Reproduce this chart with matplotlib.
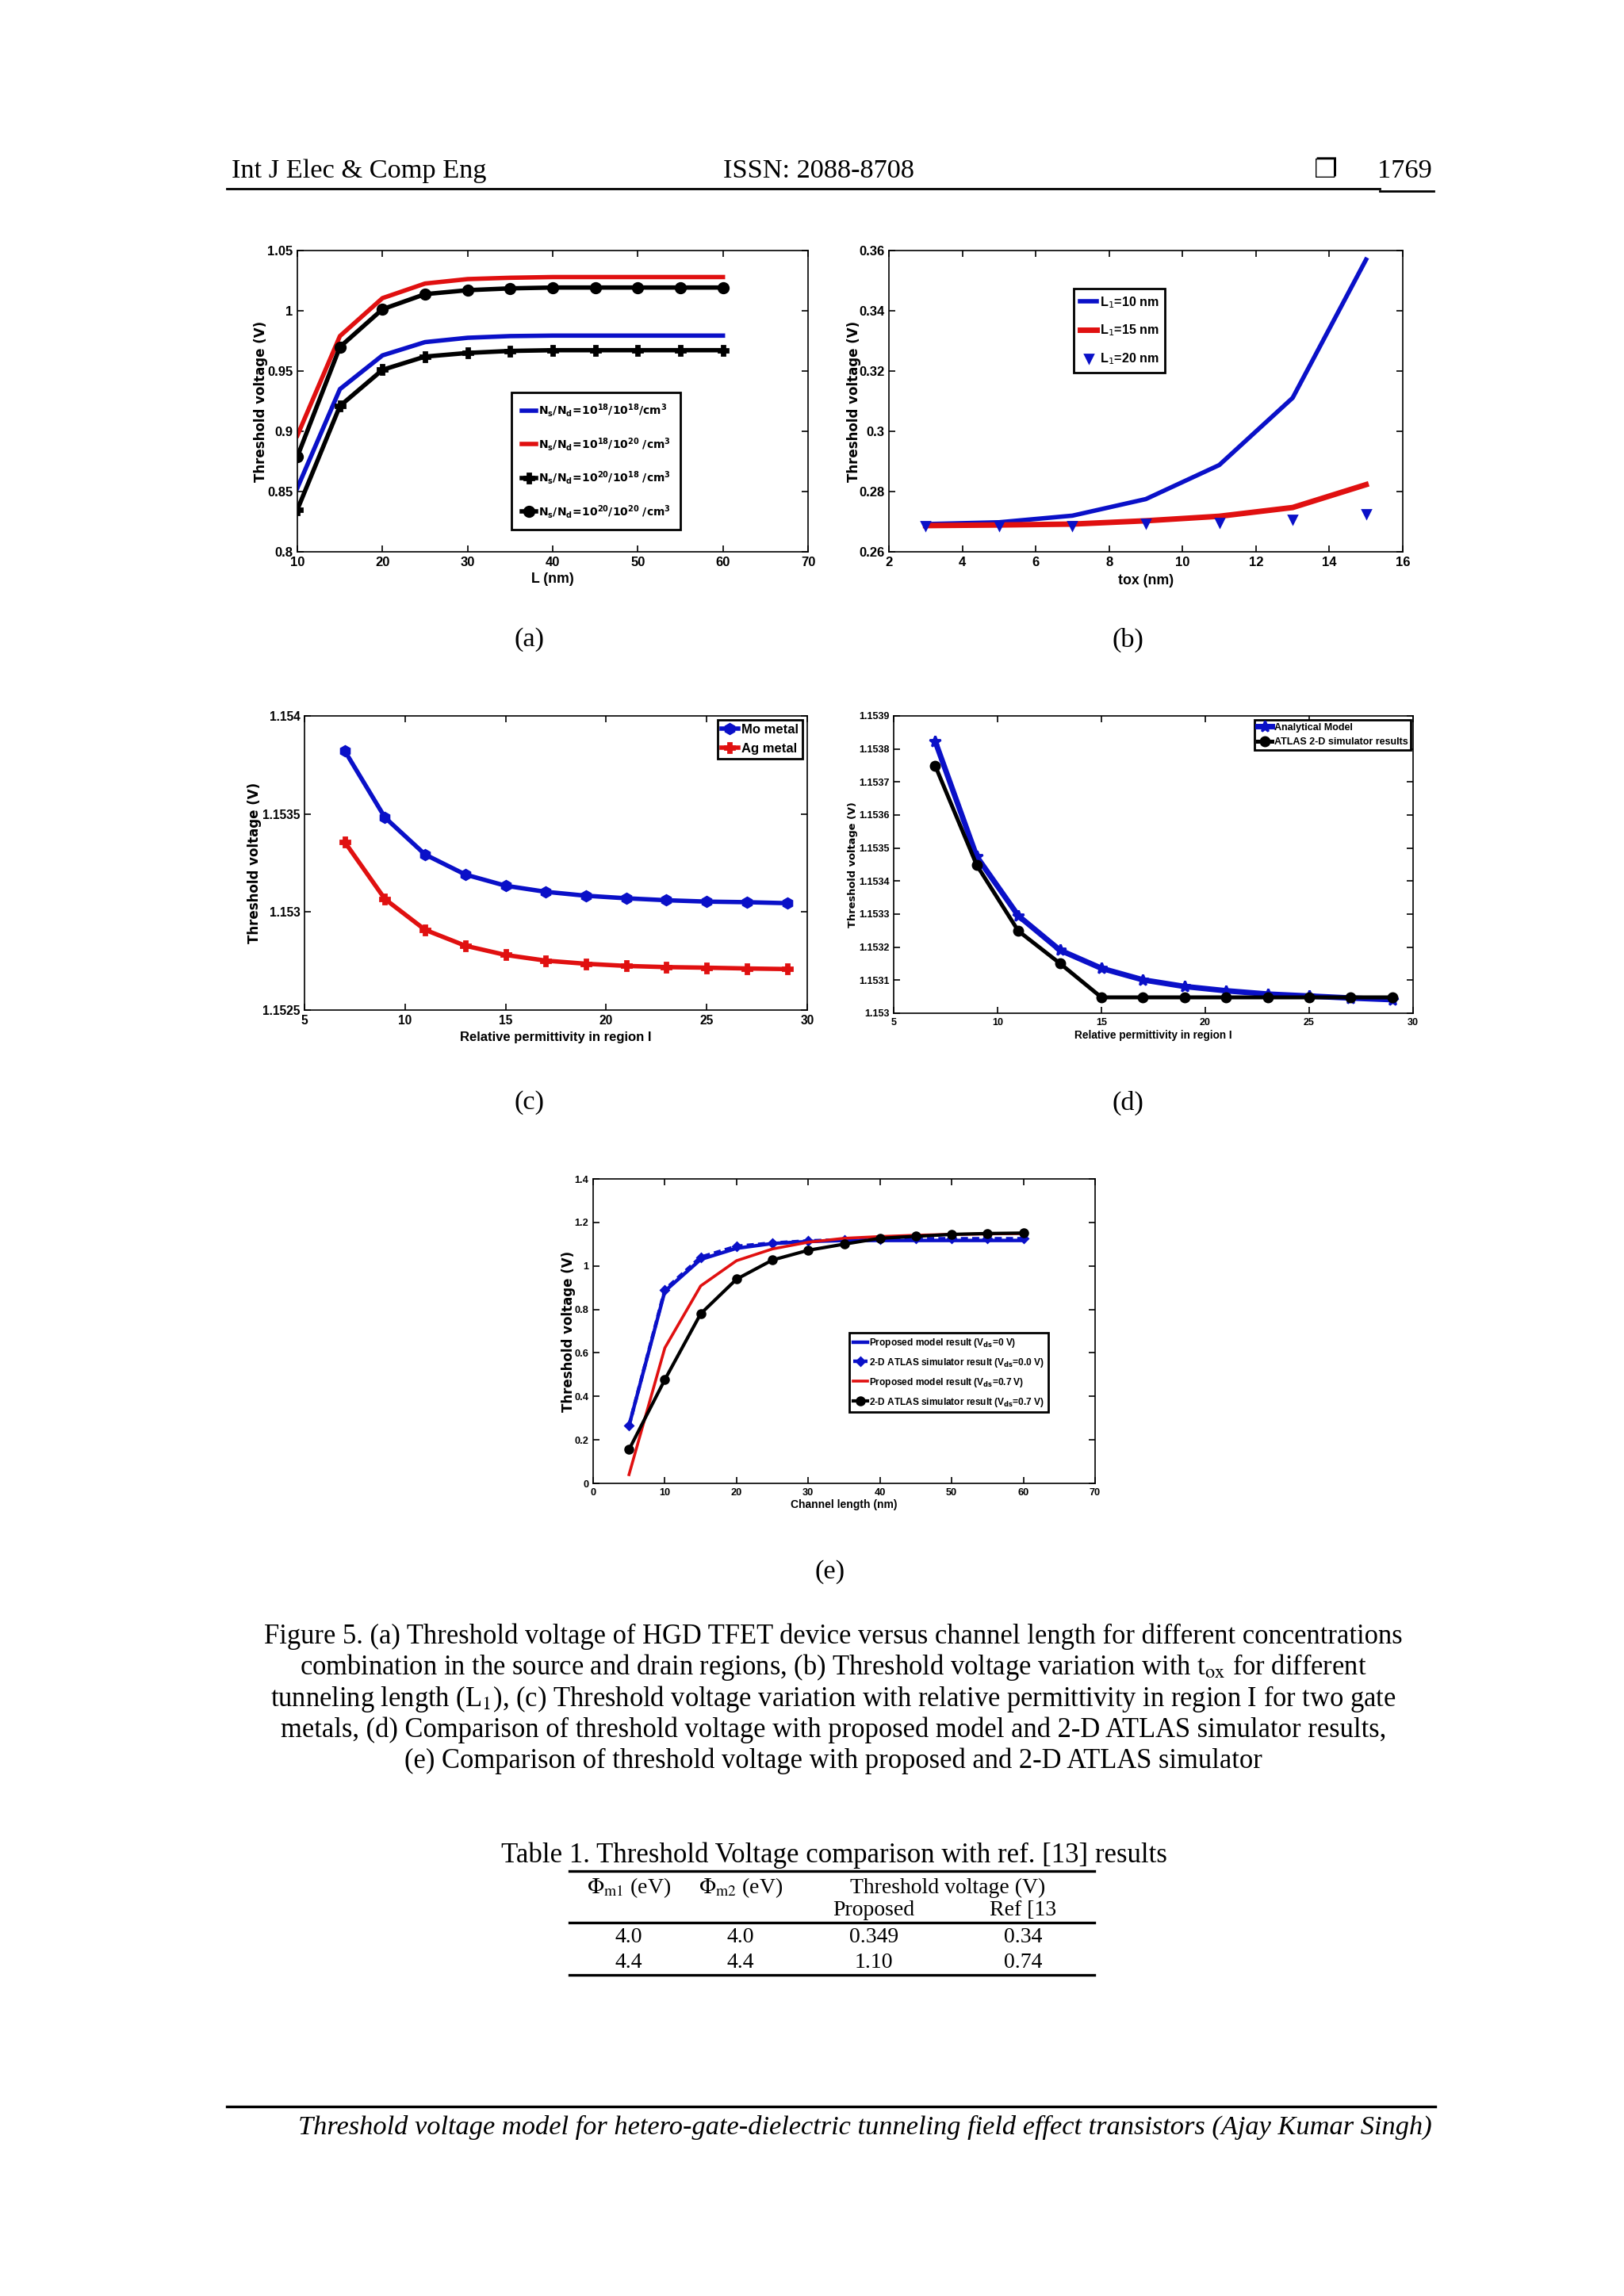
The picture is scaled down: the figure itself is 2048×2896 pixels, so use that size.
import numpy as np
import matplotlib
matplotlib.use("Agg")
import matplotlib.pyplot as plt
from matplotlib.lines import Line2D
from matplotlib.ticker import FuncFormatter

W, H = 2048, 2896
DPI = 200

# (a) threshold voltage vs channel length
L_a = [10, 15, 20, 25, 30, 35, 40, 45, 50, 55, 60]
vt_a_18_18 = [0.853, 0.935, 0.963, 0.974, 0.9776, 0.979, 0.9794, 0.9794, 0.9794, 0.9794, 0.9794]
vt_a_18_20 = [0.8965, 0.979, 1.0105, 1.0226, 1.0263, 1.0274, 1.028, 1.028, 1.028, 1.028, 1.028]
vt_a_20_18 = [0.835, 0.921, 0.951, 0.962, 0.965, 0.9667, 0.9673, 0.9673, 0.9673, 0.9673, 0.9673]
vt_a_20_20 = [0.879, 0.970, 1.0013, 1.0138, 1.0171, 1.0186, 1.0193, 1.0193, 1.0193, 1.0193, 1.0193]

# (b) threshold voltage vs tox
tox_b = [3, 5, 7, 9, 11, 13, 15]
vt_b_L10 = [0.2692, 0.2698, 0.2720, 0.2775, 0.2888, 0.3111, 0.3570]
vt_b_L15 = [0.2687, 0.2689, 0.2692, 0.2703, 0.2718, 0.2747, 0.2823]
vt_b_L20 = [0.2686, 0.2687, 0.2687, 0.2694, 0.2698, 0.2707, 0.2725]

# (c) threshold voltage vs relative permittivity, two gate metals
eps_c = [7, 9, 11, 13, 15, 17, 19, 21, 23, 25, 27, 29]
vt_c_mo = [1.153822, 1.153482, 1.153293, 1.153191, 1.153134, 1.153103,
           1.153083, 1.153070, 1.153060, 1.153053, 1.153050, 1.153045]
vt_c_ag = [1.153357, 1.153066, 1.152909, 1.152828, 1.152781, 1.152752,
           1.152736, 1.152725, 1.152719, 1.152716, 1.152712, 1.152709]

# (d) analytical model vs ATLAS
eps_d = [7, 9, 11, 13, 15, 17, 19, 21, 23, 25, 27, 29]
vt_d_model = [1.153823, 1.153474, 1.153295, 1.153191, 1.153136, 1.153101,
              1.153081, 1.153068, 1.153058, 1.153052, 1.153046, 1.153041]
vt_d_atlas = [1.153749, 1.153448, 1.153249, 1.153151, 1.153048, 1.153048,
              1.153048, 1.153048, 1.153048, 1.153048, 1.153048, 1.153048]

# (e) proposed model vs ATLAS, two drain biases
L_e = [5, 10, 15, 20, 25, 30, 35, 40, 45, 50, 55, 60]
vt_e_model0 = [0.265, 0.884, 1.030, 1.081, 1.103, 1.112, 1.117, 1.117, 1.117, 1.117, 1.117, 1.117]
vt_e_atlas0 = [0.265, 0.890, 1.040, 1.090, 1.105, 1.115, 1.120, 1.122, 1.125, 1.125, 1.125, 1.125]
vt_e_model7 = [0.040, 0.623, 0.908, 1.024, 1.078, 1.109, 1.127, 1.135, 1.141, 1.145, 1.147, 1.149]
vt_e_atlas7 = [0.155, 0.477, 0.780, 0.939, 1.027, 1.072, 1.100, 1.127, 1.136, 1.145, 1.149, 1.151]

caption_lines = [
    "Figure 5. (a) Threshold voltage of HGD TFET device versus channel length for different concentrations",
    r"combination in the source and drain regions, (b) Threshold voltage variation with t$_{\mathrm{ox}}$ for different",
    r"tunneling length (L$_1$), (c) Threshold voltage variation with relative permittivity in region I for two gate",
    "metals, (d) Comparison of threshold voltage with proposed model and 2-D ATLAS simulator results,",
    "(e) Comparison of threshold voltage with proposed and 2-D ATLAS simulator",
]
table_rows = [["4.0", "4.0", "0.349", "0.34"], ["4.4", "4.4", "1.10", "0.74"]]

SERIF = ["Liberation Serif", "DejaVu Serif"]
SANS = ["Liberation Sans", "DejaVu Sans"]

plt.rcParams["font.family"] = SANS
plt.rcParams["mathtext.fontset"] = "dejavusans"
plt.rcParams["axes.linewidth"] = 0.6
plt.rcParams["legend.fancybox"] = False
plt.rcParams["legend.edgecolor"] = "black"
plt.rcParams["legend.framealpha"] = 1.0

fig = plt.figure(figsize=(W / DPI, H / DPI), dpi=DPI)
BLUE = "#0a10c8"
RED = "#e01010"


def add_ax(l, t, r, b):
    return fig.add_axes([l / W, 1 - b / H, (r - l) / W, (b - t) / H])


def style_ax(ax, fs, ylab_x, xlab_y, ylab_fs):
    ax.tick_params(direction="in", top=True, right=True, length=3, width=0.6,
                   labelsize=fs, pad=2)
    ax.xaxis.set_major_formatter(FuncFormatter(lambda v, p: f"{v:g}"))
    ax.yaxis.set_major_formatter(FuncFormatter(lambda v, p: f"{round(v, 6):g}"))
    for lab in ax.get_xticklabels() + ax.get_yticklabels():
        lab.set_fontweight("bold")
    ax.set_ylabel("Threshold voltage (V)", family="DejaVu Sans", fontweight="bold",
                  fontsize=ylab_fs)
    ax.yaxis.set_label_coords(ylab_x, 0.5)
    ax.yaxis.label.set_va("center")
    ax.xaxis.set_label_coords(0.5, xlab_y)
    ax.xaxis.label.set_va("center")
    ax.xaxis.label.set_fontsize(fs + 0.4)
    ax.xaxis.label.set_fontweight("bold")


def leg(ax, fs, **kw):
    return ax.legend(borderaxespad=0, prop={"size": fs, "weight": "bold"},
                     handletextpad=0.2, **kw)


def fig_text(x, y, s, **kw):
    fig.text(x / W, 1 - y / H, s, **kw)


def hline(x0, x1, y, lw=1.0):
    fig.add_artist(Line2D([x0 / W, x1 / W], [1 - y / H, 1 - y / H], color="black",
                          lw=lw, transform=fig.transFigure))


# ---- header / footer ----
hdr = dict(family=SERIF, fontsize=12.4, va="center")
fig_text(292, 216, "Int J Elec & Comp Eng", ha="left", **hdr)
fig_text(1032, 216, "ISSN: 2088-8708", ha="center", **hdr)
fig_text(1672, 214, "\u2750", ha="center", family=["DejaVu Sans"], fontsize=12, va="center")
fig_text(1806, 216, "1769", ha="right", **hdr)
hline(286, 1740, 238, lw=1.0)
hline(1740, 1808, 241, lw=1.0)
hline(286, 1810, 2657, lw=1.2)
fig_text(1806, 2683, "Threshold voltage model for hetero-gate-dielectric tunneling field effect transistors (Ajay Kumar Singh)",
         ha="right", va="center", family=SERIF, style="italic", fontsize=12.4)

# ---- (a) ----
ax = add_ax(375, 316, 1019, 696)
ax.plot(L_a, vt_a_18_18, color=BLUE, lw=2.0, label=r"$\mathbf{N_s/N_d\!=\!10^{18}/10^{18}/cm^3}$")
ax.plot(L_a, vt_a_18_20, color=RED, lw=2.0, label=r"$\mathbf{N_s/N_d\!=\!10^{18}/10^{20}\ /cm^3}$")
ax.plot(L_a, vt_a_20_18, color="black", lw=2.0, marker="P", ms=4, label=r"$\mathbf{N_s/N_d\!=\!10^{20}/10^{18}\ /cm^3}$")
ax.plot(L_a, vt_a_20_20, color="black", lw=2.0, marker="o", ms=4.5, label=r"$\mathbf{N_s/N_d\!=\!10^{20}/10^{20}\ /cm^3}$")
ax.set_xlim(10, 70)
ax.set_ylim(0.8, 1.05)
ax.set_xticks(np.arange(10, 71, 10))
ax.set_yticks(np.arange(0.8, 1.0501, 0.05))
ax.set_xlabel("L (nm)")
style_ax(ax, 6, -0.071, -0.092, 6)
leg(ax, 5.0, loc="upper left", bbox_to_anchor=(0.42, 0.53), handlelength=1.3,
    labelspacing=1.55, borderpad=0.9)

# ---- (b) ----
ax = add_ax(1121, 316, 1769, 696)
ax.plot(tox_b, vt_b_L10, color=BLUE, lw=2.0, label=r"L$_1$=10 nm")
ax.plot(tox_b, vt_b_L15, color=RED, lw=2.5, label=r"L$_1$=15 nm")
ax.plot(tox_b, vt_b_L20, ls="none", color=BLUE, marker="v", ms=3.8, label=r"L$_1$=20 nm")
ax.set_xlim(2, 16)
ax.set_ylim(0.26, 0.36)
ax.set_xticks(np.arange(2, 17, 2))
ax.set_yticks(np.arange(0.26, 0.3601, 0.02))
ax.set_xlabel("tox (nm)")
style_ax(ax, 6, -0.068, -0.097, 6)
leg(ax, 5.8, loc="upper left", bbox_to_anchor=(0.36, 0.874), handlelength=1.3,
    labelspacing=1.05, borderpad=0.5)

# ---- (c) ----
ax = add_ax(384, 903, 1018, 1274)
ax.plot(eps_c, vt_c_mo, color=BLUE, lw=2.0, marker="h", ms=4.5, label="Mo metal")
ax.plot(eps_c, vt_c_ag, color=RED, lw=2.0, marker="P", ms=4.5, label="Ag metal")
ax.set_xlim(5, 30)
ax.set_ylim(1.1525, 1.154)
ax.set_xticks(np.arange(5, 31, 5))
ax.set_yticks([1.1525, 1.153, 1.1535, 1.154])
ax.set_xlabel("Relative permittivity in region I")
style_ax(ax, 5.6, -0.099, -0.094, 6)
leg(ax, 6, loc="upper right", bbox_to_anchor=(0.99, 0.987), handlelength=1.3,
    labelspacing=0.55, borderpad=0.3)

# ---- (d) ----
ax = add_ax(1127, 903, 1782, 1278)
ax.plot(eps_d, vt_d_model, color=BLUE, lw=2.5, marker="*", ms=5, label="Analytical Model")
ax.plot(eps_d, vt_d_atlas, color="black", lw=1.8, marker="o", ms=4, label="ATLAS 2-D simulator results")
ax.set_xlim(5, 30)
ax.set_ylim(1.153, 1.1539)
ax.set_xticks(np.arange(5, 31, 5))
ax.set_yticks(np.linspace(1.153, 1.1539, 10))
ax.set_xlabel("Relative permittivity in region I")
style_ax(ax, 4.5, -0.079, -0.075, 4.7)
leg(ax, 4.5, loc="upper right", bbox_to_anchor=(0.996, 0.987), handlelength=1.5,
    labelspacing=0.5, borderpad=0.3)

# ---- (e) ----
ax = add_ax(748, 1487, 1381, 1871)
ax.plot(L_e, vt_e_model0, color=BLUE, lw=1.6, label=r"Proposed model result (V$_{\mathbf{ds}}$=0 V)")
ax.plot(L_e, vt_e_atlas0, color=BLUE, lw=1.6, ls=(0, (2, 1.2)), marker="D", ms=2.5,
        label=r"2-D ATLAS simulator result (V$_{\mathbf{ds}}$=0.0 V)")
ax.plot(L_e, vt_e_model7, color=RED, lw=1.3, label=r"Proposed model result (V$_{\mathbf{ds}}$=0.7 V)")
ax.plot(L_e, vt_e_atlas7, color="black", lw=1.5, marker="o", ms=3.5,
        label=r"2-D ATLAS simulator result (V$_{\mathbf{ds}}$=0.7 V)")
ax.set_xlim(0, 70)
ax.set_ylim(0, 1.4)
ax.set_xticks(np.arange(0, 71, 10))
ax.set_yticks(np.arange(0, 1.401, 0.2))
ax.set_xlabel("Channel length (nm)")
style_ax(ax, 4.6, -0.049, -0.07, 6)
leg(ax, 4.3, loc="upper left", bbox_to_anchor=(0.51, 0.495), handlelength=1.5,
    labelspacing=0.75, borderpad=0.4)

# ---- panel labels ----
lab = dict(family=SERIF, fontsize=12.4, ha="center", va="center")
fig_text(668, 807, "(a)", **lab)
fig_text(1422, 807, "(b)", **lab)
fig_text(668, 1391, "(c)", **lab)
fig_text(1422, 1391, "(d)", **lab)
fig_text(1047, 1983, "(e)", **lab)

# ---- caption ----
cap = dict(family=SERIF, fontsize=12.45, ha="center", va="center", math_fontfamily="stix")
for i, line in enumerate(caption_lines):
    fig_text(1051, 2064 + 39.3 * i, line, **cap)

# ---- table ----
fig_text(1052, 2340, "Table 1. Threshold Voltage comparison with ref. [13] results",
         family=SERIF, fontsize=12.5, ha="center", va="center")
tab = dict(family=SERIF, fontsize=10, ha="center", va="center", math_fontfamily="stix")
hline(718, 1380, 2360, lw=1.2)
hline(718, 1380, 2425, lw=1.2)
hline(718, 1380, 2491, lw=1.2)
fig_text(793, 2381, r"$\Phi_{\mathrm{m1}}$ (eV)", **tab)
fig_text(934, 2381, r"$\Phi_{\mathrm{m2}}$ (eV)", **tab)
fig_text(1195, 2381, "Threshold voltage (V)", **tab)
fig_text(1102, 2410, "Proposed", **tab)
fig_text(1290, 2410, "Ref [13", **tab)
col_x = [793, 934, 1102, 1290]
for r, row in enumerate(table_rows):
    for cx, val in zip(col_x, row):
        fig_text(cx, 2444 + 32 * r, val, **tab)

fig.savefig("out.png", dpi=DPI, facecolor="white")
